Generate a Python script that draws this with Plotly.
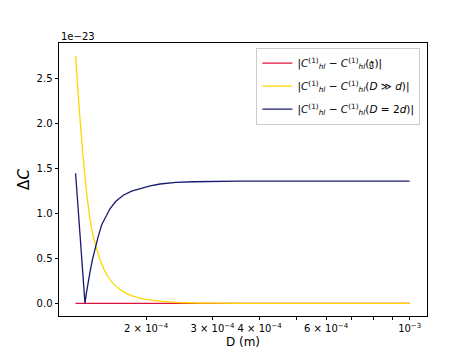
import plotly.graph_objects as go

# D values (m) and Delta C values (units of 1e-23)
D_red = [1.30e-4, 1.0e-3]
C_red = [0.0, 0.0]

D_yellow = [1.300e-4, 1.322e-4, 1.344e-4, 1.368e-4, 1.397e-4, 1.434e-4, 1.480e-4,
            1.524e-4, 1.588e-4, 1.654e-4, 1.758e-4, 1.908e-4, 2.114e-4, 2.34e-4,
            2.59e-4, 3.0e-4, 4.0e-4, 6.0e-4, 1.0e-3]
C_yellow = [2.75, 2.30, 1.90, 1.53, 1.16, 0.83, 0.60, 0.44, 0.29, 0.20, 0.12, 0.06,
            0.03, 0.015, 0.007, 0.002, 0.0, 0.0, 0.0]

D_blue = [1.300e-4, 1.322e-4, 1.344e-4, 1.368e-4, 1.377e-4, 1.387e-4, 1.400e-4,
          1.420e-4, 1.440e-4, 1.464e-4, 1.490e-4, 1.524e-4, 1.560e-4, 1.604e-4,
          1.660e-4, 1.740e-4, 1.830e-4, 1.928e-4, 2.050e-4, 2.178e-4, 2.400e-4,
          2.672e-4, 2.96e-4, 3.5e-4, 4.0e-4, 6.0e-4, 1.0e-3]
C_blue = [1.445, 1.00, 0.60, 0.18, 0.0, 0.10, 0.21, 0.35, 0.48, 0.61, 0.73, 0.87,
          0.96, 1.05, 1.13, 1.20, 1.245, 1.275, 1.305, 1.325, 1.343, 1.350, 1.354,
          1.356, 1.357, 1.357, 1.357]

x_tickvals = [2e-4, 3e-4, 4e-4, 5e-4, 6e-4, 7e-4, 8e-4, 9e-4, 1e-3]
x_ticktext = ["2 × 10<sup>−4</sup>", "3 × 10<sup>−4</sup>", "4 × 10<sup>−4</sup>", "",
              "6 × 10<sup>−4</sup>", "", "", "", "10<sup>−3</sup>"]
y_tickvals = [0.0, 0.5, 1.0, 1.5, 2.0, 2.5]
y_ticktext = ["0.0", "0.5", "1.0", "1.5", "2.0", "2.5"]

C = "<i>C</i><sup>(1)</sup><sub><i>hl</i></sub>"
names = [
    f"|{C} − {C}(𝔤)|",
    f"|{C} − {C}(<i>D</i> ≫ <i>d</i>)|",
    f"|{C} − {C}(<i>D</i> = 2<i>d</i>)|",
]

fig = go.Figure()
fig.add_trace(go.Scatter(x=D_red, y=C_red, mode="lines", name=names[0], legendgroup="a",
                         line=dict(color="#DC143C", width=1.3)))
fig.add_trace(go.Scatter(x=D_yellow, y=C_yellow, mode="lines", name=names[1], legendgroup="b",
                         line=dict(color="#FFD700", width=1.3, shape="spline", smoothing=0.6)))
fig.add_trace(go.Scatter(x=D_blue, y=C_blue, mode="lines", name=names[2], legendgroup="c",
                         line=dict(color="#191970", width=1.3)))

fig.update_layout(
    width=474, height=355,
    margin=dict(l=59, r=47, t=43, b=39),
    paper_bgcolor="white", plot_bgcolor="white",
    font=dict(family="DejaVu Sans", size=10, color="black"),
    showlegend=True,
    legend=dict(x=0.982, y=0.983, xanchor="right", yanchor="top",
                bgcolor="rgba(255,255,255,0.8)", bordercolor="#cccccc", borderwidth=1,
                font=dict(size=10.5), tracegroupgap=4, itemwidth=30),
    xaxis=dict(type="log", range=[-3.930, -2.954], showgrid=False, zeroline=False,
               automargin=False,
               showline=True, linecolor="black", linewidth=1, mirror=True,
               ticks="outside", ticklen=3, tickwidth=1, tickcolor="black",
               tickmode="array", tickvals=x_tickvals, ticktext=x_ticktext,
               tickfont=dict(size=10),
               title=dict(text="D (m)", font=dict(size=12), standoff=4)),
    yaxis=dict(range=[-0.140, 2.890], showgrid=False, zeroline=False,
               automargin=False,
               showline=True, linecolor="black", linewidth=1, mirror=True,
               ticks="outside", ticklen=3.5, tickwidth=1, tickcolor="black",
               tickmode="array", tickvals=y_tickvals, ticktext=y_ticktext,
               tickfont=dict(size=10),
               title=dict(text="Δ<i>C</i>", font=dict(size=15), standoff=3)),
)
fig.add_annotation(text="1e−23", xref="paper", yref="paper", x=0, y=1,
                   xanchor="left", yanchor="bottom", showarrow=False,
                   font=dict(size=10), yshift=-1)

fig.write_html("out.html", config={"displayModeBar": False},
               post_script="document.body.style.margin='0px';document.body.style.overflow='hidden';")
